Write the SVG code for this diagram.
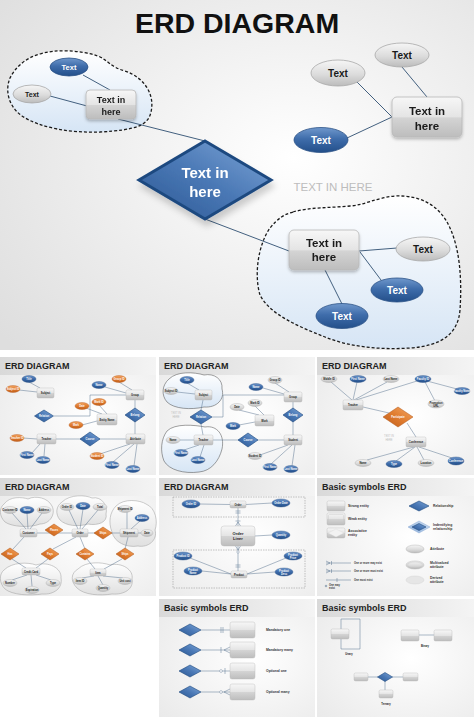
<svg xmlns="http://www.w3.org/2000/svg" width="474" height="717" viewBox="0 0 474 717">
<defs>
<radialGradient id="gSlide" cx="0.62" cy="0.45" r="0.8"><stop offset="0" stop-color="#ffffff"/><stop offset="1" stop-color="#dedede"/></radialGradient>
<radialGradient id="gThumb" cx="0.6" cy="0.5" r="0.8"><stop offset="0" stop-color="#ffffff"/><stop offset="1" stop-color="#e9e9e9"/></radialGradient>
<linearGradient id="gBand" x1="0" y1="0" x2="1" y2="0"><stop offset="0" stop-color="#d9d9d9"/><stop offset="1" stop-color="#f4f4f4"/></linearGradient>
<linearGradient id="gBlue" x1="0" y1="0" x2="0" y2="1"><stop offset="0" stop-color="#7098cc"/><stop offset="0.45" stop-color="#3f6dab"/><stop offset="1" stop-color="#234f8a"/></linearGradient>
<linearGradient id="gGray" x1="0" y1="0" x2="0" y2="1"><stop offset="0" stop-color="#f6f6f6"/><stop offset="0.55" stop-color="#dcdcdc"/><stop offset="1" stop-color="#bcbcbc"/></linearGradient>
<linearGradient id="gRect" x1="0" y1="0" x2="0" y2="1"><stop offset="0" stop-color="#f7f7f7"/><stop offset="0.5" stop-color="#e4e4e4"/><stop offset="0.52" stop-color="#d4d4d4"/><stop offset="1" stop-color="#bdbdbd"/></linearGradient>
<linearGradient id="gOr" x1="0" y1="0" x2="0" y2="1"><stop offset="0" stop-color="#f2a463"/><stop offset="0.5" stop-color="#e07b2e"/><stop offset="1" stop-color="#c2601c"/></linearGradient>
<linearGradient id="gOrD" x1="1" y1="0" x2="0" y2="1"><stop offset="0" stop-color="#f4a866"/><stop offset="0.5" stop-color="#e07c2f"/><stop offset="1" stop-color="#bd5c1a"/></linearGradient>
<linearGradient id="gDia" x1="1" y1="0" x2="0" y2="1"><stop offset="0" stop-color="#7ea6d8"/><stop offset="0.5" stop-color="#4a78b5"/><stop offset="1" stop-color="#2a5793"/></linearGradient>
<linearGradient id="gDiaL" x1="1" y1="0" x2="0" y2="1"><stop offset="0" stop-color="#cfe0f3"/><stop offset="1" stop-color="#8fb1dc"/></linearGradient>
<linearGradient id="gCloud" x1="0" y1="0" x2="0" y2="1"><stop offset="0" stop-color="#ffffff"/><stop offset="1" stop-color="#d6e5f5"/></linearGradient>
<linearGradient id="gCloudG" x1="0" y1="0" x2="0" y2="1"><stop offset="0" stop-color="#ffffff"/><stop offset="1" stop-color="#e0e0e0"/></linearGradient>
<filter id="sh" x="-20%" y="-20%" width="140%" height="160%"><feDropShadow dx="0" dy="2" stdDeviation="1.5" flood-color="#000" flood-opacity="0.25"/></filter>
<filter id="shD" x="-20%" y="-20%" width="140%" height="160%"><feDropShadow dx="2" dy="6" stdDeviation="3" flood-color="#000" flood-opacity="0.18"/></filter>
<style>
.be{fill:url(#gBlue);stroke:#2b5286;stroke-width:.8}
.ge{fill:url(#gGray);stroke:#a8a8a8;stroke-width:.8}
.oe{fill:url(#gOr);stroke:#b6591b;stroke-width:.4}
.gr{fill:url(#gRect);stroke:#b8b8b8;stroke-width:.8}
.bd{fill:url(#gDia);stroke:#1f4a80;stroke-width:3;stroke-linejoin:miter}
.od{fill:url(#gOrD);stroke:#b05414;stroke-width:.5}
.ln{stroke:#43607f;stroke-width:1;fill:none}
.cl{fill:url(#gCloud);stroke:#1a1a1a;stroke-width:1.3;stroke-dasharray:3 2}
.th .be,.th .ge,.th .gr{stroke-width:.4}
.th .bd{stroke-width:.6}
.th .ln{stroke-width:.5;stroke:#5a7590}
.tc{fill:url(#gCloud);stroke:#444;stroke-width:.5}
.gc{fill:url(#gCloudG);stroke:#9a9a9a;stroke-width:.5}
.box{fill:none;stroke:#8a8a8a;stroke-width:.5;stroke-dasharray:1.5 1}
text{font-family:"Liberation Sans",Arial,sans-serif;font-weight:bold}
.w{fill:#ffffff;text-anchor:middle}
.k{fill:#1a1a1a;text-anchor:middle}
.t{font-size:2.6px}
.tl{font-size:3.4px;fill:#333}
.h{font-size:9px;fill:#222}
.gt{fill:#bdbdbd;font-weight:normal;text-anchor:middle}
</style>
</defs>
<rect width="474" height="717" fill="#ffffff"/>
<!-- main slide -->
<g id="slide">
<rect x="0" y="0" width="474" height="350" fill="url(#gSlide)"/>
<text x="237" y="33" text-anchor="middle" font-size="28.5" fill="#111">ERD DIAGRAM</text>
<path id="cloudLeft" class="cl" d="M40,54 C55,49 80,50 98,56 C108,60 110,67 125,71 C145,78 155,95 151,112 C148,126 135,130 100,132 C70,133 40,128 22,116 C8,106 5,90 10,78 C15,68 25,58 40,54 Z"/>
<path id="cloudRight" class="cl" d="M293,212 C310,207 330,208 350,206 C365,205 375,198 395,196 C420,195 440,205 450,228 C460,250 462,280 460,310 C458,335 440,346 410,348 C380,350 350,347 325,337 C300,327 270,315 260,295 C254,275 258,245 270,228 C278,218 285,214 293,212 Z"/>
<text class="gt" x="333" y="191" font-size="11.5">TEXT IN HERE</text>
<g id="connectors">
<line class="ln" x1="83" y1="75" x2="110" y2="90"/>
<line class="ln" x1="50" y1="96" x2="87" y2="106"/>
<line class="ln" x1="118" y1="119" x2="205" y2="141" stroke="#6a7a8a"/>
<line class="ln" x1="205" y1="219" x2="289" y2="251" stroke="#6a7a8a"/>
<line class="ln" x1="402" y1="67" x2="427" y2="97"/>
<line class="ln" x1="357" y1="82" x2="392" y2="117"/>
<line class="ln" x1="347" y1="138" x2="392" y2="117"/>
<line class="ln" x1="359" y1="251" x2="397" y2="248"/>
<line class="ln" x1="360" y1="252" x2="381" y2="280"/>
<line class="ln" x1="325" y1="270" x2="342" y2="304"/>
</g>
<g id="attrL1"><ellipse class="be" cx="69" cy="67" rx="19" ry="9"/><text class="w" x="69" y="70" font-size="7.5">Text</text></g>
<g id="attrL2"><ellipse class="ge" cx="32" cy="94" rx="19" ry="9"/><text class="k" x="32" y="97" font-size="7">Text</text></g>
<g id="entityL" filter="url(#sh)"><rect class="gr" x="86" y="90" width="50" height="29" rx="4"/><text class="k" x="111" y="103" font-size="9">Text in</text><text class="k" x="111" y="115" font-size="9">here</text></g>
<g id="relation" filter="url(#shD)"><polygon class="bd" points="205,141 271,180 205,219 139,180"/><text class="w" x="205" y="178" font-size="15">Text in</text><text class="w" x="205" y="197" font-size="15">here</text></g>
<g id="attrR1"><ellipse class="ge" cx="402" cy="55" rx="27" ry="12"/><text class="k" x="402" y="59" font-size="10">Text</text></g>
<g id="attrR2"><ellipse class="ge" cx="338" cy="73" rx="27" ry="13"/><text class="k" x="338" y="77" font-size="10">Text</text></g>
<g id="attrR3"><ellipse class="be" cx="321" cy="140" rx="27" ry="12.5"/><text class="w" x="321" y="144" font-size="10">Text</text></g>
<g id="entityR" filter="url(#sh)"><rect class="gr" x="392" y="97" width="70" height="40" rx="5"/><text class="k" x="427" y="115" font-size="11.5">Text in</text><text class="k" x="427" y="130" font-size="11.5">here</text></g>
<g id="entityB" filter="url(#sh)"><rect class="gr" x="289" y="230" width="70" height="40" rx="5"/><text class="k" x="324" y="247" font-size="11.5">Text in</text><text class="k" x="324" y="261" font-size="11.5">here</text></g>
<g id="attrB1"><ellipse class="ge" cx="423" cy="249" rx="27" ry="12"/><text class="k" x="423" y="253" font-size="10">Text</text></g>
<g id="attrB2"><ellipse class="be" cx="397" cy="290" rx="26" ry="12"/><text class="w" x="397" y="294" font-size="10">Text</text></g>
<g id="attrB3"><ellipse class="be" cx="342" cy="316" rx="26" ry="12.5"/><text class="w" x="342" y="320" font-size="10">Text</text></g>
</g>

<!-- thumbnail 1 -->
<g id="thumb1" class="th" transform="translate(0,357)">
<rect width="156" height="118" fill="url(#gThumb)"/><rect width="156" height="18" fill="url(#gBand)"/>
<text class="h" x="5" y="12">ERD DIAGRAM</text>
<line class="ln" x1="29" y1="25" x2="40" y2="31"/><line class="ln" x1="19" y1="33" x2="37" y2="35"/>
<line class="ln" x1="105" y1="30" x2="126" y2="36"/><line class="ln" x1="119" y1="25" x2="132" y2="33"/>
<line class="ln" x1="135" y1="43" x2="135" y2="77"/><polyline class="ln" points="54,59 90,59 90,38 126,38"/>
<line class="ln" x1="86" y1="51" x2="102" y2="57"/><line class="ln" x1="99" y1="48" x2="107" y2="57"/><line class="ln" x1="82" y1="68" x2="97" y2="64"/>
<line class="ln" x1="56" y1="82" x2="126" y2="82"/><line class="ln" x1="23" y1="81" x2="37" y2="82"/>
<line class="ln" x1="31" y1="97" x2="40" y2="87"/><line class="ln" x1="44" y1="99" x2="45" y2="87"/>
<line class="ln" x1="130" y1="87" x2="100" y2="97"/><line class="ln" x1="134" y1="87" x2="113" y2="105"/><line class="ln" x1="137" y1="87" x2="134" y2="109"/>
<ellipse class="be" cx="29" cy="22" rx="7" ry="3.5"/><text class="w t" x="29" y="23">Title</text>
<ellipse class="oe" cx="13" cy="32" rx="7" ry="3.5"/><text class="w t" x="13" y="33">Subject ID</text>
<rect class="gr" x="37" y="31" width="17" height="10" rx="1.5"/><text class="k t" x="45.5" y="37">Subject</text>
<ellipse class="be" cx="99" cy="28" rx="7" ry="3.5"/><text class="w t" x="99" y="29">Name</text>
<ellipse class="oe" cx="119" cy="22" rx="7" ry="3.5"/><text class="w t" x="119" y="23">Group ID</text>
<rect class="gr" x="126" y="33" width="18" height="10" rx="1.5"/><text class="k t" x="135" y="39">Group</text>
<polygon class="bd" points="34.5,59 44,53 53.5,59 44,65"/><text class="w t" x="44" y="60">Relation</text>
<polygon class="bd" points="125,58 135,51 145,58 135,65"/><text class="w t" x="135" y="59">Belong</text>
<ellipse class="oe" cx="82" cy="49" rx="7" ry="3.5"/><text class="w t" x="82" y="50">Date</text>
<ellipse class="oe" cx="99" cy="45" rx="7" ry="3.5"/><text class="w t" x="99" y="46">Mark ID</text>
<rect class="gr" x="97" y="57" width="20" height="11" rx="1.5"/><text class="k t" x="107" y="63.5">Entity Name</text>
<ellipse class="oe" cx="76" cy="68" rx="7" ry="3.5"/><text class="w t" x="76" y="69">Mark</text>
<ellipse class="oe" cx="17" cy="81" rx="7" ry="3.5"/><text class="w t" x="17" y="82">Teacher ID</text>
<rect class="gr" x="37" y="77" width="19" height="10" rx="1.5"/><text class="k t" x="46.5" y="83">Teacher</text>
<polygon class="bd" points="80,82 90,75 100,82 90,89"/><text class="w t" x="90" y="83">Course</text>
<rect class="gr" x="126" y="77" width="19" height="10" rx="1.5"/><text class="k t" x="135.5" y="83">Attribute</text>
<ellipse class="be" cx="27" cy="98" rx="7" ry="3.5"/><text class="w t" x="27" y="99">First Name</text>
<ellipse class="be" cx="43" cy="103" rx="7" ry="3.5"/><text class="w t" x="43" y="104">Last Name</text>
<ellipse class="oe" cx="97" cy="99" rx="7" ry="3.5"/><text class="w t" x="97" y="100">Student ID</text>
<ellipse class="be" cx="112" cy="108" rx="7" ry="3.5"/><text class="w t" x="112" y="109">First Name</text>
<ellipse class="be" cx="133" cy="112" rx="7" ry="3.5"/><text class="w t" x="133" y="113">Last Name</text>
</g>

<!-- thumbnail 2 -->
<g id="thumb2" class="th" transform="translate(159,357)">
<rect width="156" height="118" fill="url(#gThumb)"/><rect width="156" height="18" fill="url(#gBand)"/>
<text class="h" x="5" y="12">ERD DIAGRAM</text>
<path class="tc" d="M10,22 C18,14 35,15 45,18 C55,16 64,22 63,32 C66,42 58,51 45,50 C32,53 15,52 8,45 C2,38 3,28 10,22 Z"/>
<path class="tc" d="M8,74 C16,66 36,68 46,70 C58,68 66,78 63,92 C60,104 52,114 40,115 C25,117 10,113 5,104 C1,94 2,82 8,74 Z"/>
<text class="gt t" x="17" y="57">TEXT IN</text><text class="gt t" x="17" y="61">HERE</text>
<line class="ln" x1="28" y1="26" x2="40" y2="33"/><line class="ln" x1="18" y1="35" x2="36" y2="37"/>
<line class="ln" x1="44" y1="43" x2="42" y2="53"/><polyline class="ln" points="53,60 64,60 64,38 125,38"/>
<line class="ln" x1="42" y1="67" x2="44" y2="78"/><line class="ln" x1="54" y1="83" x2="125" y2="83"/><line class="ln" x1="21" y1="83" x2="35" y2="83"/>
<line class="ln" x1="116" y1="26" x2="130" y2="35"/><line class="ln" x1="104" y1="31" x2="125" y2="37"/><line class="ln" x1="134" y1="45" x2="134" y2="78"/>
<line class="ln" x1="80" y1="53" x2="100" y2="58"/><line class="ln" x1="96" y1="49" x2="105" y2="58"/><line class="ln" x1="80" y1="68" x2="96" y2="65"/>
<line class="ln" x1="25" y1="93" x2="40" y2="88"/><line class="ln" x1="41" y1="100" x2="45" y2="88"/>
<line class="ln" x1="129" y1="88" x2="101" y2="98"/><line class="ln" x1="133" y1="88" x2="112" y2="107"/><line class="ln" x1="136" y1="88" x2="133" y2="109"/>
<ellipse class="be" cx="28" cy="23" rx="7" ry="3.5"/><text class="w t" x="28" y="24">Title</text>
<ellipse class="ge" cx="12" cy="34" rx="7" ry="3.5"/><text class="k t" x="12" y="35">Subject ID</text>
<rect class="gr" x="36" y="33" width="17" height="10" rx="1.5"/><text class="k t" x="44.5" y="39">Subject</text>
<polygon class="bd" points="31,60 42,53 53,60 42,67"/><text class="w t" x="42" y="61">Relation</text>
<ellipse class="ge" cx="14" cy="83" rx="7" ry="3.5"/><text class="k t" x="14" y="84">Name</text>
<rect class="gr" x="35" y="78" width="19" height="10" rx="1.5"/><text class="k t" x="44.5" y="84">Teacher</text>
<ellipse class="ge" cx="116" cy="23" rx="7" ry="3.5"/><text class="k t" x="116" y="24">Group ID</text>
<ellipse class="be" cx="97" cy="30" rx="7" ry="3.5"/><text class="w t" x="97" y="31">Name</text>
<rect class="gr" x="125" y="35" width="18" height="10" rx="1.5"/><text class="k t" x="134" y="41">Group</text>
<polygon class="bd" points="124,58 134,51 144,58 134,65"/><text class="w t" x="134" y="59">Belong</text>
<ellipse class="ge" cx="78" cy="50" rx="7" ry="3.5"/><text class="k t" x="78" y="51">Date</text>
<ellipse class="ge" cx="96" cy="46" rx="7" ry="3.5"/><text class="k t" x="96" y="47">Mark ID</text>
<rect class="gr" x="96" y="58" width="19" height="11" rx="1.5"/><text class="k t" x="105.5" y="64.5">Work</text>
<ellipse class="be" cx="74" cy="69" rx="7" ry="3.5"/><text class="w t" x="74" y="70">Mark</text>
<polygon class="bd" points="79,83 89,76 99,83 89,90"/><text class="w t" x="89" y="84">Course</text>
<rect class="gr" x="125" y="78" width="18" height="10" rx="1.5"/><text class="k t" x="134" y="84">Student</text>
<ellipse class="be" cx="22" cy="96" rx="7" ry="3.5"/><text class="w t" x="22" y="97">First Name</text>
<ellipse class="be" cx="39" cy="103" rx="7" ry="3.5"/><text class="w t" x="39" y="104">Last Name</text>
<ellipse class="ge" cx="96" cy="99" rx="7" ry="3.5"/><text class="k t" x="96" y="100">Student ID</text>
<ellipse class="be" cx="111" cy="110" rx="7" ry="3.5"/><text class="w t" x="111" y="111">First Name</text>
<ellipse class="be" cx="132" cy="112" rx="7" ry="3.5"/><text class="w t" x="132" y="113">Last Name</text>
</g>

<!-- thumbnail 3 -->
<g id="thumb3" class="th" transform="translate(317,357)">
<rect width="157" height="118" fill="url(#gThumb)"/><rect width="157" height="18" fill="url(#gBand)"/>
<text class="h" x="5" y="12">ERD DIAGRAM</text>
<line class="ln" x1="14" y1="25" x2="35" y2="43"/><line class="ln" x1="40" y1="25" x2="36" y2="43"/><line class="ln" x1="70" y1="25" x2="37" y2="43"/><line class="ln" x1="100" y1="24" x2="39" y2="43"/>
<line class="ln" x1="110" y1="24" x2="140" y2="32"/><line class="ln" x1="108" y1="25" x2="118" y2="44"/>
<line class="ln" x1="46" y1="50" x2="72" y2="56"/><line class="ln" x1="90" y1="66" x2="99" y2="80"/>
<line class="ln" x1="97" y1="90" x2="50" y2="103"/><line class="ln" x1="98" y1="90" x2="79" y2="104"/><line class="ln" x1="100" y1="90" x2="107" y2="103"/><line class="ln" x1="102" y1="90" x2="135" y2="101"/>
<ellipse class="ge" cx="12" cy="22" rx="8" ry="3.5"/><text class="k t" x="12" y="23">Middle ID</text>
<ellipse class="be" cx="41" cy="22" rx="8" ry="3.5"/><text class="w t" x="41" y="23">First Name</text>
<ellipse class="ge" cx="74" cy="22" rx="8" ry="3.5"/><text class="k t" x="74" y="23">Last Name</text>
<ellipse class="be" cx="106" cy="22" rx="8" ry="3.5"/><text class="w t" x="106" y="23">Faculty ID</text>
<ellipse class="be" cx="145" cy="34" rx="8" ry="3.5"/><text class="w t" x="145" y="35">Faculty Name</text>
<ellipse class="ge" cx="119" cy="47" rx="8" ry="4"/><text class="k t" x="119" y="47">Promotion</text><text class="k t" x="119" y="50">URL</text>
<rect class="gr" x="26" y="43" width="20" height="10" rx="1.5"/><text class="k t" x="36" y="49">Teacher</text>
<polygon class="od" points="66,60 81,50 96,60 81,70"/><text class="w t" x="81" y="61">Participate</text>
<text class="gt t" x="72" y="80">TEXT IN</text><text class="gt t" x="72" y="84">HERE</text>
<rect class="gr" x="89" y="80" width="20" height="10" rx="1.5"/><text class="k t" x="99" y="86">Conference</text>
<ellipse class="ge" cx="46" cy="106" rx="8" ry="3.5"/><text class="k t" x="46" y="107">Name</text>
<ellipse class="be" cx="77" cy="107" rx="8" ry="3.5"/><text class="w t" x="77" y="108">Type</text>
<ellipse class="ge" cx="109" cy="106" rx="8" ry="3.5"/><text class="k t" x="109" y="107">Location</text>
<ellipse class="be" cx="139" cy="104" rx="8" ry="4"/><text class="w t" x="139" y="105">Conference</text>
</g>

<!-- thumbnail 4 -->
<g id="thumb4" class="th" transform="translate(0,478)">
<rect width="156" height="118" fill="url(#gThumb)"/><rect width="156" height="18" fill="url(#gBand)"/>
<text class="h" x="5" y="12">ERD DIAGRAM</text>
<path class="gc" d="M4,26 C10,18 22,19 28,21 C36,17 48,20 52,28 C56,36 50,46 40,46 C30,50 12,49 5,44 C-1,38 -1,30 4,26 Z"/>
<path class="gc" d="M62,24 C70,16 86,17 92,20 C102,18 108,28 106,36 C108,44 98,48 88,46 C78,49 66,48 60,42 C55,36 56,28 62,24 Z"/>
<path class="gc" d="M116,28 C124,20 140,22 146,26 C156,30 158,44 155,52 C158,62 148,70 138,68 C126,70 114,64 112,54 C108,44 110,34 116,28 Z"/>
<path class="gc" d="M4,92 C12,84 28,84 36,87 C48,83 62,90 61,100 C63,110 54,117 42,116 C30,118 12,117 5,111 C-1,105 -1,96 4,92 Z"/>
<path class="gc" d="M78,91 C86,83 102,84 110,87 C122,84 134,92 132,101 C134,111 124,117 112,116 C100,118 84,117 77,110 C70,103 71,95 78,91 Z"/>
<line class="ln" x1="12" y1="35" x2="26" y2="51"/><line class="ln" x1="27" y1="35" x2="28" y2="51"/><line class="ln" x1="42" y1="35" x2="30" y2="51"/>
<line class="ln" x1="69" y1="32" x2="78" y2="51"/><line class="ln" x1="83" y1="31" x2="80" y2="51"/><line class="ln" x1="98" y1="32" x2="82" y2="51"/>
<line class="ln" x1="127" y1="34" x2="127" y2="51"/><line class="ln" x1="140" y1="43" x2="131" y2="51"/><line class="ln" x1="141" y1="55" x2="138" y2="55"/>
<line class="ln" x1="37" y1="55" x2="72" y2="55"/><line class="ln" x1="88" y1="55" x2="120" y2="55"/>
<line class="ln" x1="24" y1="59" x2="13" y2="71"/><line class="ln" x1="12" y1="81" x2="26" y2="90"/>
<line class="ln" x1="76" y1="59" x2="53" y2="71"/><line class="ln" x1="48" y1="81" x2="36" y2="90"/>
<line class="ln" x1="80" y1="59" x2="85" y2="71"/><line class="ln" x1="87" y1="81" x2="95" y2="91"/>
<line class="ln" x1="128" y1="59" x2="125" y2="71"/><line class="ln" x1="122" y1="81" x2="104" y2="91"/>
<line class="ln" x1="12" y1="102" x2="27" y2="97"/><line class="ln" x1="32" y1="108" x2="31" y2="97"/><line class="ln" x1="51" y1="102" x2="36" y2="97"/>
<line class="ln" x1="82" y1="100" x2="94" y2="98"/><line class="ln" x1="103" y1="107" x2="98" y2="98"/><line class="ln" x1="123" y1="100" x2="103" y2="98"/>
<ellipse class="ge" cx="10" cy="32" rx="7" ry="3.5"/><text class="k t" x="10" y="33">Customer ID</text>
<ellipse class="be" cx="27" cy="32" rx="7" ry="3.5"/><text class="w t" x="27" y="33">Name</text>
<ellipse class="ge" cx="44" cy="32" rx="7" ry="3.5"/><text class="k t" x="44" y="33">Address</text>
<ellipse class="ge" cx="67" cy="29" rx="7" ry="3.5"/><text class="k t" x="67" y="30">Order ID</text>
<ellipse class="be" cx="83" cy="28" rx="7" ry="3.5"/><text class="w t" x="83" y="29">Date</text>
<ellipse class="ge" cx="100" cy="29" rx="7" ry="3.5"/><text class="k t" x="100" y="30">Total</text>
<ellipse class="ge" cx="125" cy="31" rx="7" ry="3.5"/><text class="k t" x="125" y="32">Shipment ID</text>
<ellipse class="be" cx="142" cy="40" rx="7" ry="3.5"/><text class="w t" x="142" y="41">Address</text>
<ellipse class="ge" cx="147" cy="55" rx="6" ry="3.5"/><text class="k t" x="147" y="56">Date</text>
<rect class="gr" x="20" y="51" width="17" height="8" rx="1.5"/><text class="k t" x="28.5" y="56">Customer</text>
<rect class="gr" x="72" y="51" width="16" height="8" rx="1.5"/><text class="k t" x="80" y="56">Order</text>
<rect class="gr" x="120" y="51" width="18" height="8" rx="1.5"/><text class="k t" x="129" y="56">Shipment</text>
<polygon class="od" points="45,52 54,46 63,52 54,58"/><text class="w t" x="54" y="53">Places</text>
<polygon class="od" points="94,55 103,49 112,55 103,61"/><text class="w t" x="103" y="56">Ships</text>
<polygon class="od" points="1,76 10,70 19,76 10,82"/><text class="w t" x="10" y="77">Has</text>
<polygon class="od" points="41,76 50,70 59,76 50,82"/><text class="w t" x="50" y="77">Pays</text>
<polygon class="od" points="76,76 85,70 94,76 85,82"/><text class="w t" x="85" y="77">Contains</text>
<polygon class="od" points="116,76 125,70 134,76 125,82"/><text class="w t" x="125" y="77">Ships</text>
<rect class="gr" x="22" y="90" width="18" height="7" rx="1.5"/><text class="k t" x="31" y="94.5">Credit Card</text>
<rect class="gr" x="90" y="91" width="16" height="7" rx="1.5"/><text class="k t" x="98" y="95.5">Item</text>
<ellipse class="ge" cx="10" cy="105" rx="7" ry="3.5"/><text class="k t" x="10" y="106">Number</text>
<ellipse class="ge" cx="32" cy="112" rx="7" ry="3.5"/><text class="k t" x="32" y="113">Expiration</text>
<ellipse class="ge" cx="53" cy="105" rx="7" ry="3.5"/><text class="k t" x="53" y="106">Type</text>
<ellipse class="ge" cx="80" cy="103" rx="7" ry="3.5"/><text class="k t" x="80" y="104">Item ID</text>
<ellipse class="ge" cx="103" cy="110" rx="7" ry="3.5"/><text class="k t" x="103" y="111">Quantity</text>
<ellipse class="ge" cx="125" cy="103" rx="7" ry="3.5"/><text class="k t" x="125" y="104">Unit cost</text>
</g>

<!-- thumbnail 5 -->
<g id="thumb5" class="th" transform="translate(159,478)">
<rect width="156" height="118" fill="url(#gThumb)"/><rect width="156" height="18" fill="url(#gBand)"/>
<text class="h" x="5" y="12">ERD DIAGRAM</text>
<rect class="box" x="14" y="19" width="132" height="20"/>
<rect class="box" x="14" y="72" width="132" height="38"/>
<line class="ln" x1="41" y1="26" x2="71" y2="26.5"/><line class="ln" x1="87" y1="26.5" x2="113" y2="25"/>
<line class="ln" x1="79" y1="30" x2="79" y2="48"/><line class="ln" x1="76.5" y1="33" x2="81.5" y2="33"/><line class="ln" x1="76.5" y1="35" x2="81.5" y2="35"/>
<polyline class="ln" points="76.5,48 79,44 81.5,48"/><line class="ln" x1="76.5" y1="43" x2="81.5" y2="43"/>
<line class="ln" x1="96" y1="58" x2="113" y2="57"/>
<line class="ln" x1="79" y1="68" x2="79" y2="93"/><polyline class="ln" points="76.5,68 79,72 81.5,68"/><circle cx="79" cy="74" r="1.2" fill="#fff" stroke="#5a7590" stroke-width=".4"/>
<line class="ln" x1="76.5" y1="87" x2="81.5" y2="87"/><line class="ln" x1="76.5" y1="89" x2="81.5" y2="89"/>
<line class="ln" x1="31" y1="80" x2="72" y2="96"/><line class="ln" x1="43" y1="93" x2="72" y2="96"/>
<line class="ln" x1="127" y1="80" x2="88" y2="96"/><line class="ln" x1="116" y1="94" x2="88" y2="96"/>
<ellipse class="be" cx="32" cy="26" rx="9" ry="4"/><text class="w t" x="32" y="27">Order ID</text>
<rect class="gr" x="71" y="23" width="16" height="7" rx="1.5"/><text class="k t" x="79" y="27.5">Order</text>
<ellipse class="be" cx="122" cy="25" rx="9" ry="4"/><text class="w t" x="122" y="26">Order Date</text>
<rect class="gr" x="62" y="48" width="34" height="20" rx="3"/><text class="k" x="79" y="57" font-size="4">Order</text><text class="k" x="79" y="62" font-size="4">Liner</text>
<ellipse class="be" cx="122" cy="57" rx="9" ry="4"/><text class="w t" x="122" y="58">Quantity</text>
<ellipse class="be" cx="24" cy="78" rx="9" ry="4"/><text class="w t" x="24" y="79">Product ID</text>
<ellipse class="be" cx="34" cy="93" rx="9" ry="4"/><text class="w t" x="34" y="92.5">Product</text><text class="w t" x="34" y="95.5">Name</text>
<ellipse class="be" cx="134" cy="78" rx="9" ry="4"/><text class="w t" x="134" y="77.5">Product</text><text class="w t" x="134" y="80.5">Price</text>
<ellipse class="be" cx="125" cy="94" rx="9" ry="4"/><text class="w t" x="125" y="93.5">Product</text><text class="w t" x="125" y="96.5">Desc</text>
<rect class="gr" x="72" y="93" width="16" height="7" rx="1.5"/><text class="k t" x="80" y="97.5">Product</text>
</g>

<!-- thumbnail 6 -->
<g id="thumb6" class="th" transform="translate(317,478)">
<rect width="157" height="118" fill="url(#gThumb)"/><rect width="157" height="18" fill="url(#gBand)"/>
<text class="h" x="5" y="12">Basic symbols ERD</text>
<rect class="gr" x="10" y="23" width="18" height="10" rx="1.5"/><text class="tl" x="31" y="29">Strong entity</text>
<rect class="gr" x="10" y="35" width="18" height="12" rx="1.5"/><rect x="11.5" y="36.5" width="15" height="9" rx="1" fill="none" stroke="#c4c4c4" stroke-width=".4"/><text class="tl" x="31" y="42">Weak entity</text>
<rect class="gr" x="10" y="50" width="18" height="10" rx="1.5"/><polygon points="11,55 19,51 27,55 19,59" fill="#f2f2f2" stroke="#cfcfcf" stroke-width=".3"/><text class="tl" x="31" y="54">Associative</text><text class="tl" x="31" y="58">entity</text>
<polygon class="bd" points="92,28 102,23 112,28 102,33"/><text class="tl" x="116" y="29">Relationship</text>
<polygon points="91,49 102,43 113,49 102,55" fill="url(#gDiaL)" stroke="#7d9fcc" stroke-width=".4"/><polygon class="bd" points="95,49 102,45.5 109,49 102,52.5"/><text class="tl" x="116" y="48">Indentifying</text><text class="tl" x="116" y="52">relationship</text>
<ellipse class="ge" cx="98" cy="71" rx="9" ry="4"/><text class="tl" x="113" y="72">Attribute</text>
<ellipse class="ge" cx="98" cy="87" rx="9" ry="4"/><ellipse cx="98" cy="87" rx="7.5" ry="3" fill="none" stroke="#b5b5b5" stroke-width=".3"/><text class="tl" x="113" y="86">Multivalued</text><text class="tl" x="113" y="90">attribute</text>
<ellipse cx="98" cy="102" rx="9" ry="4" fill="#e6e6e6" stroke="#cfcfcf" stroke-width=".4"/><text class="tl" x="113" y="101">Derived</text><text class="tl" x="113" y="105">attribute</text>
<line class="ln" x1="9" y1="85" x2="34" y2="85"/><polyline class="ln" points="9,83 13,85 9,87"/><line class="ln" x1="14.5" y1="83" x2="14.5" y2="87"/>
<line class="ln" x1="9" y1="93" x2="34" y2="93"/><polyline class="ln" points="9,91 13,93 9,95"/><line class="ln" x1="14.5" y1="91" x2="14.5" y2="95"/>
<line class="ln" x1="9" y1="102" x2="34" y2="102"/><line class="ln" x1="20" y1="100" x2="20" y2="104"/>
<text class="t" x="37" y="86" fill="#333">One or more may exist</text>
<text class="t" x="37" y="94" fill="#333">One or more must exist</text>
<text class="t" x="37" y="103" fill="#333">One must exist</text>
<circle cx="9" cy="108" r="1" fill="#9ab" stroke="#789" stroke-width=".3"/><text class="t" x="12" y="108" fill="#333">One may</text><text class="t" x="12" y="111" fill="#333">exist</text>
</g>

<!-- thumbnail 7 -->
<g id="thumb7" class="th" transform="translate(159,599)">
<rect width="156" height="118" fill="url(#gThumb)"/><rect width="156" height="18" fill="url(#gBand)"/>
<text class="h" x="5" y="12">Basic symbols ERD</text>
<line class="ln" x1="42" y1="31" x2="71" y2="31"/><line class="ln" x1="62" y1="28" x2="62" y2="34"/><line class="ln" x1="64" y1="28" x2="64" y2="34"/>
<line class="ln" x1="42" y1="51" x2="71" y2="51"/><line class="ln" x1="62" y1="48" x2="62" y2="54"/><polyline class="ln" points="71,48 65,51 71,54"/>
<line class="ln" x1="42" y1="72" x2="71" y2="72"/><circle cx="62" cy="72" r="1.4" fill="#fff" stroke="#5a7590" stroke-width=".4"/><line class="ln" x1="66" y1="69" x2="66" y2="75"/>
<line class="ln" x1="42" y1="93" x2="71" y2="93"/><circle cx="62" cy="93" r="1.4" fill="#fff" stroke="#5a7590" stroke-width=".4"/><polyline class="ln" points="71,90 65,93 71,96"/>
<polygon class="bd" points="20,31 31,25 42,31 31,37"/><rect class="gr" x="71" y="23" width="25" height="16" rx="2"/><text class="tl" x="107" y="32">Mandatory one</text>
<polygon class="bd" points="20,51 31,45 42,51 31,57"/><rect class="gr" x="71" y="43" width="25" height="16" rx="2"/><text class="tl" x="107" y="52">Mandatory many</text>
<polygon class="bd" points="20,72 31,66 42,72 31,78"/><rect class="gr" x="71" y="64" width="25" height="16" rx="2"/><text class="tl" x="107" y="73">Optional one</text>
<polygon class="bd" points="20,93 31,87 42,93 31,99"/><rect class="gr" x="71" y="85" width="25" height="16" rx="2"/><text class="tl" x="107" y="94">Optional many</text>
</g>

<!-- thumbnail 8 -->
<g id="thumb8" class="th" transform="translate(317,599)">
<rect width="157" height="118" fill="url(#gThumb)"/><rect width="157" height="18" fill="url(#gBand)"/>
<text class="h" x="5" y="12">Basic symbols ERD</text>
<polyline class="ln" points="24,30 24,20 43,20 43,50 24,50 24,40"/>
<rect class="gr" x="14" y="30" width="18" height="10" rx="1.5"/><text class="k t" x="32" y="56">Unary</text>
<line class="ln" x1="102" y1="36" x2="117" y2="36"/>
<rect class="gr" x="84" y="31" width="18" height="11" rx="1.5"/><rect class="gr" x="117" y="31" width="18" height="11" rx="1.5"/><text class="k t" x="108" y="48">Binary</text>
<line class="ln" x1="51" y1="78" x2="61" y2="78"/><line class="ln" x1="75" y1="78" x2="86" y2="78"/><line class="ln" x1="68" y1="82" x2="68" y2="91"/>
<rect class="gr" x="37" y="74" width="14" height="8" rx="1.5"/><polygon class="bd" points="60.5,78 68,73.5 75.5,78 68,82.5"/><rect class="gr" x="86" y="74" width="15" height="8" rx="1.5"/><rect class="gr" x="62" y="91" width="14" height="8" rx="1.5"/>
<text class="k t" x="69" y="106">Ternary</text>
</g>
</svg>
